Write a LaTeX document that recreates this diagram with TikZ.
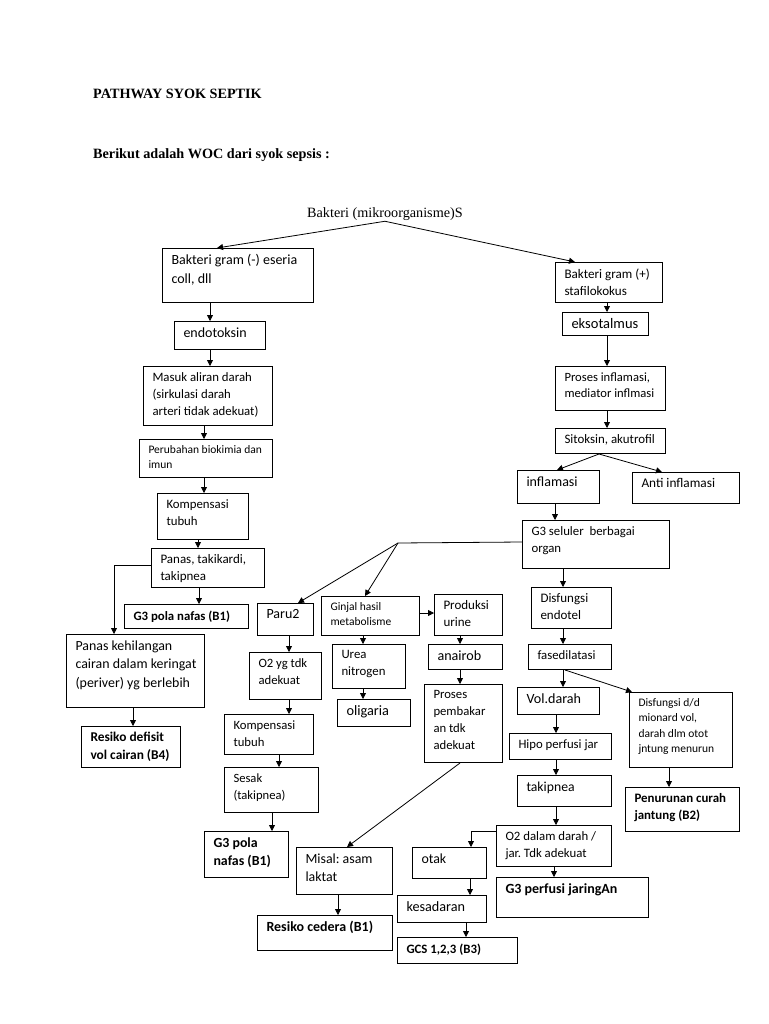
\documentclass[tikz,border=0pt]{standalone}
\usepackage{fontspec}
\setmainfont{Liberation Serif}
\newfontfamily\calfont{Carlito}
\usetikzlibrary{arrows.meta}
\frenchspacing
\def\bxpadx{9}
\def\bxpady{6}
\newcommand\flowbox[8]{%
  \pgfmathsetlengthmacro\bxw{(#4)-(#2)-2*\bxpadx}%
  \pgfmathsetlengthmacro\bxwide{(#4)-(#2)+60}%
  \pgfmathsetlengthmacro\bxh{(#5)-(#3)-2*\bxpady}%
  \pgfmathsetlengthmacro\bxls{1.33*#6}%
  \node[box, inner xsep=\bxpadx pt, inner ysep=\bxpady pt] (#1) at (#2,#3)
    {\makebox[\bxw][l]{\parbox[t][\bxh][t]{\bxwide}{\fontsize{#6pt}{\bxls}\selectfont\calfont\frenchspacing#7\raggedright #8}}};%
}
\begin{document}
\begin{tikzpicture}[x=1pt,y=-1pt,
  box/.style={draw, line width=1pt, inner sep=0pt, anchor=north west},
  arr/.style={-{Triangle[length=6pt,width=6pt]}, line width=0.8pt},
  ln/.style={line width=0.8pt},
  serif/.style={anchor=base west, inner sep=0pt}]
\useasboundingbox[fill=white] (0,0) rectangle (768,1024);

\node[serif, font=\bfseries\fontsize{14.2pt}{17pt}\selectfont] (title) at (93,99) {PATHWAY SYOK SEPTIK};
\node[serif, font=\bfseries\fontsize{14.2pt}{17pt}\selectfont] (sub) at (93,159) {Berikut adalah WOC dari syok sepsis :};
\node[serif, font=\fontsize{14.2pt}{17pt}\selectfont] (bakteri) at (307,218) {Bakteri (mikroorganisme)S};

% left column
\flowbox{bneg}{162}{248}{313}{302}{14}{}{Bakteri gram (-) eseria\\coll, dll}
\flowbox{endo}{174}{321}{265}{349}{14}{}{endotoksin}
\flowbox{masuk}{143}{366}{272}{425}{12.8}{}{Masuk aliran darah\\(sirkulasi darah\\arteri tidak adekuat)}
\flowbox{perub}{139}{439}{272}{477}{11.5}{}{Perubahan biokimia dan\\imun}
\flowbox{komp1}{157}{493}{248}{539}{12.8}{}{Kompensasi\\tubuh}
\flowbox{panas}{151}{548}{264}{587}{13}{}{Panas, takikardi,\\takipnea}
\flowbox{g3pn1}{124}{604}{248}{628}{12.8}{\bfseries}{G3 pola nafas (B1)}
\flowbox{kehil}{66}{634}{204}{707}{13.9}{}{Panas kehilangan\\cairan dalam keringat\\(periver) yg berlebih}
\flowbox{resdef}{81}{726}{180}{767}{13.4}{\bfseries}{Resiko defisit\\vol cairan (B4)}

% right column
\flowbox{bpos}{555}{262}{662}{302}{13.1}{}{Bakteri gram (+)\\stafilokokus}
\flowbox{ekso}{562}{312}{648}{335}{14.5}{}{eksotalmus}
\flowbox{prosinf}{555}{366}{665}{410}{12.6}{}{Proses inflamasi,\\mediator inflmasi}
\flowbox{sitok}{555}{428}{665}{453}{12.9}{}{Sitoksin, akutrofil}
\flowbox{infl}{517}{470}{599}{503}{14}{}{inflamasi}
\flowbox{anti}{632}{472}{739}{503}{13.3}{}{Anti inflamasi}
\flowbox{g3sel}{522}{520}{669}{568}{12.8}{}{G3 seluler\ \ berbagai\\organ}

% middle
\flowbox{paru}{257}{603}{313}{635}{14}{}{Paru2}
\flowbox{ginjal}{321}{596}{419}{635}{11.5}{}{Ginjal hasil\\metabolisme}
\flowbox{prod}{434}{594}{502}{635}{13}{}{Produksi\\urine}
\flowbox{urea}{332}{644}{405}{688}{12.8}{}{Urea\\nitrogen}
\flowbox{olig}{337}{699}{410}{726}{14.3}{}{oligaria}
\flowbox{anai}{428}{644}{502}{669}{14.1}{}{anairob}
\flowbox{pemb}{424}{684}{502}{762}{12.7}{}{Proses\\pembakar\\an tdk\\adekuat}
\flowbox{disend}{531}{587}{611}{628}{13}{}{Disfungsi\\endotel}
\flowbox{fase}{528}{644}{611}{669}{12.8}{}{fasedilatasi}
\flowbox{vol}{517}{687}{599}{714}{14.1}{}{Vol.darah}
\flowbox{hipo}{509}{733}{611}{759}{12.75}{}{Hipo perfusi jar}
\flowbox{disdd}{629}{692}{732}{767}{11.5}{}{Disfungsi d/d\\mionard vol,\\darah dlm otot\\jntung menurun}
\flowbox{penur}{625}{787}{739}{831}{12.9}{\bfseries}{Penurunan curah\\jantung (B2)}
\flowbox{takip}{517}{775}{611}{806}{13.7}{}{takipnea}
\flowbox{o2dar}{496}{825}{611}{866}{12.8}{}{O2 dalam darah /\\jar. Tdk adekuat}
\flowbox{otak}{412}{847}{486}{878}{13.9}{}{otak}
\flowbox{kesad}{397}{895}{486}{922}{14.2}{}{kesadaran}
\flowbox{gcs}{397}{937}{517}{963}{12.8}{\bfseries}{GCS 1,2,3 (B3)}
\flowbox{g3perf}{496}{877}{648}{917}{14}{\bfseries}{G3 perfusi jaringAn}
\flowbox{o2tdk}{249}{652}{321}{699}{12.7}{}{O2 yg tdk\\adekuat}
\flowbox{komp2}{224}{714}{313}{754}{12.7}{}{Kompensasi\\tubuh}
\flowbox{sesak}{224}{767}{318}{812}{12.6}{}{Sesak\\(takipnea)}
\flowbox{g3pn2}{204}{831}{288}{877}{13.9}{\bfseries}{G3 pola\\nafas (B1)}
\flowbox{misal}{296}{847}{392}{894}{13.9}{}{Misal: asam\\laktat}
\flowbox{rescd}{257}{915}{392}{950}{14}{\bfseries}{Resiko cedera (B1)}

% connectors
\draw[arr] (bakteri.south) -- (bneg.north -| 217,0);
\draw[arr] (bakteri.south) -- (bpos.north -| 575,0);
\draw[arr] (bneg.south -| 210,0) -- (endo.north -| 210,0);
\draw[arr] (endo.south -| 210,0) -- (masuk.north -| 210,0);
\draw[arr] (masuk.south -| 204,0) -- (perub.north -| 204,0);
\draw[arr] (perub.south -| 204,0) -- (komp1.north -| 204,0);
\draw[arr] (komp1.south -| 198,0) -- (panas.north -| 198,0);
\draw[arr] (panas.south -| 199,0) -- (g3pn1.north -| 199,0);
\draw[arr] (panas.west |- 0,565) -| (kehil.north -| 114,0);
\draw[arr] (kehil.south -| 133,0) -- (resdef.north -| 133,0);
\draw[arr] (bpos.south -| 607,0) -- (ekso.north -| 607,0);
\draw[arr] (ekso.south -| 607,0) -- (prosinf.north -| 607,0);
\draw[arr] (prosinf.south -| 607,0) -- (sitok.north -| 607,0);
\draw[arr] (sitok.south -| 599,0) -- (infl.north -| 557,0);
\draw[arr] (sitok.south -| 599,0) -- (anti.north -| 662,0);
\draw[arr] (infl.south -| 555,0) -- (g3sel.north -| 555,0);
\coordinate (fork) at (398,543);
\draw[ln] (g3sel.west |- 0,542) -- (fork);
\draw[arr] (fork) -- (paru.north -| 298,0);
\draw[arr] (fork) -- (ginjal.north -| 365,0);
\draw[arr] (ginjal.east |- 0,613) -- (prod.west |- 0,613);
\draw[arr] (ginjal.south -| 363,0) -- (urea.north -| 363,0);
\draw[arr] (urea.south -| 363,0) -- (olig.north -| 363,0);
\draw[arr] (prod.south -| 460,0) -- (anai.north -| 460,0);
\draw[arr] (anai.south -| 460,0) -- (pemb.north -| 460,0);
\draw[arr] (pemb.south -| 460,0) -- (misal.north -| 347,0);
\draw[arr] (g3sel.south -| 563,0) -- (disend.north -| 563,0);
\draw[arr] (disend.south -| 563,0) -- (fase.north -| 563,0);
\draw[arr] (fase.south -| 563,0) -- (vol.north -| 563,0);
\draw[arr] (fase.south -| 565,0) -- (disdd.north -| 632,0);
\draw[arr] (vol.south -| 556,0) -- (hipo.north -| 556,0);
\draw[arr] (hipo.south -| 556,0) -- (takip.north -| 556,0);
\draw[arr] (takip.south -| 556,0) -- (o2dar.north -| 556,0);
\draw[arr] (disdd.south -| 669,0) -- (penur.north -| 669,0);
\draw[arr] (o2dar.west |- 0,831) -| (otak.north -| 471,0);
\draw[arr] (otak.south -| 470,0) -- (kesad.north -| 470,0);
\draw[arr] (kesad.south -| 466,0) -- (gcs.north -| 466,0);
\draw[arr] (o2dar.south -| 554,0) -- (g3perf.north -| 554,0);
\draw[arr] (paru.south -| 289,0) -- (o2tdk.north -| 289,0);
\draw[arr] (o2tdk.south -| 289,0) -- (komp2.north -| 289,0);
\draw[arr] (komp2.south -| 279,0) -- (sesak.north -| 279,0);
\draw[arr] (sesak.south -| 272,0) -- (g3pn2.north -| 272,0);
\draw[arr] (misal.south -| 338,0) -- (rescd.north -| 338,0);
\end{tikzpicture}
\end{document}
